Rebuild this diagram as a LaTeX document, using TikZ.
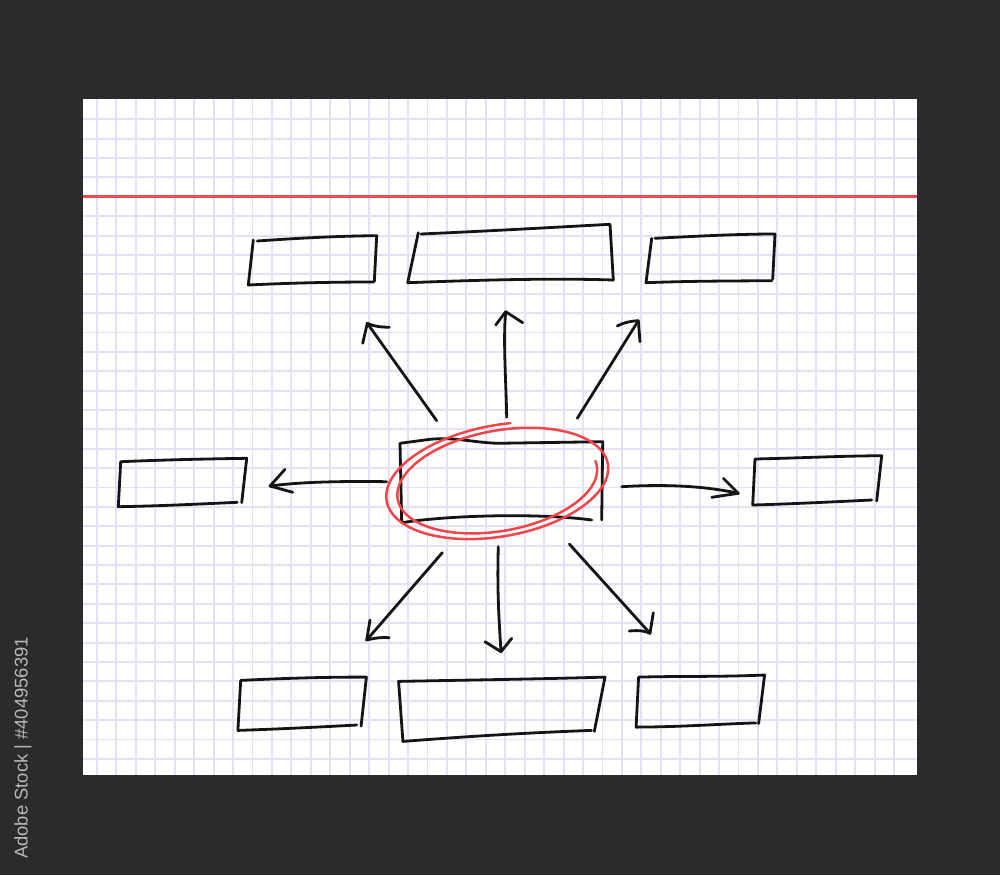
\documentclass[tikz,border=0pt]{standalone}
\usepackage{fontspec}
\newfontfamily\stampfont{Liberation Sans}
\definecolor{bgdark}{RGB}{43,43,43}
\definecolor{gridc}{RGB}{226,226,246}
\definecolor{redline}{RGB}{240,74,80}
\definecolor{redpen}{RGB}{240,70,74}
\definecolor{inkc}{RGB}{20,20,20}
\definecolor{stampc}{RGB}{185,185,185}
\begin{document}
\begin{tikzpicture}[x=1pt,y=-1pt,
  ink/.style={line width=2.8pt, draw=inkc, line cap=round, line join=round},
  redink/.style={line width=2.5pt, draw=redpen, line cap=round, line join=round},
  gridline/.style={line width=1.9pt, draw=gridc},
  arrowshaft/.style={ink},
  barbs/.style={ink}]
\useasboundingbox (0,0) rectangle (1000,875);
\fill[bgdark] (0,0) rectangle (1000,875);
\fill[white] (83,99) rectangle (916.5,775.3);
% grid
\begin{scope}
\clip (83,99) rectangle (916.5,775.3);
\foreach \i in {0,...,41} \draw[gridline] ({97+19.44*\i},99) -- ({97+19.44*\i},775.3);
\foreach \j in {0,...,33} \draw[gridline] (83,{119.3+19.38*\j}) -- (916.5,{119.3+19.38*\j});
\end{scope}
% red margin line
\draw[line width=3pt, draw=redline] (83,196.8) -- (916.5,196.8);
% stamp
\node[rotate=90, text=stampc, font=\stampfont\fontsize{18.4}{18.4}\selectfont, inner sep=0pt] (stamp) at (23,748) {Adobe Stock | \#404956391};

% top row boxes
\draw[ink] (253.3,240) -- (248.3,285) .. controls (290,283) and (330,282) .. (373.3,282);
\draw[ink] (257.3,241) .. controls (300,238) and (340,236) .. (376.7,235.7) -- (374.3,281.7);
\draw[ink] (418.3,232.7) -- (407.7,282.7) .. controls (480,280) and (550,278) .. (613.3,280);
\draw[ink] (421,234) .. controls (490,231) and (560,227) .. (610,224.3) -- (613.3,280);
\draw[ink] (651.7,238.3) -- (646,282.7) .. controls (690,281) and (730,281) .. (771.7,280.7);
\draw[ink] (655,238.3) .. controls (700,236) and (740,234) .. (775,234) -- (772.7,279.3);

% middle boxes
\draw[ink] (237.3,502.3) .. controls (200,504) and (160,506) .. (118.3,506.7) -- (120.7,461.7) .. controls (160,460) and (200,459) .. (246.7,458.3) -- (241.7,502.7);
\draw[ink] (871.7,500) .. controls (830,502) and (790,504) .. (752.7,505) -- (755,459) .. controls (800,458) and (840,456) .. (881.7,455.7) -- (876.7,501);

% centre box
\node[inner sep=0pt, minimum width=200pt, minimum height=80pt] (centre) at (501,482) {};
\draw[ink] (401.7,522.7) -- (400,443.3) -- (430,439.3) .. controls (455,437) and (470,442) .. (496.7,443.3) -- (602.7,441.7) -- (601.7,520);
\draw[ink] (401.7,522.7) .. controls (450,515) and (540,513) .. (591.7,520);

% bottom row boxes
\draw[ink] (356.8,725) .. controls (320,727) and (280,729) .. (237.9,730.4) -- (240.7,680.4) .. controls (290,678) and (330,677) .. (366.4,677.1) -- (361.1,726.1);
\draw[ink] (591.4,730.4) .. controls (520,733) and (460,737) .. (402.9,741.4) -- (398.6,681.4) .. controls (470,680) and (540,679) .. (605,677.1) -- (594.3,731.4);
\draw[ink] (755.7,722.9) .. controls (720,724) and (680,727) .. (636.1,727.1) -- (638.6,677.1) .. controls (680,676) and (720,677) .. (764.6,675) -- (758.6,723.6);

% red scribble
\draw[redink] plot[domain=-80:-725, samples=260, smooth, variable=\t]
  ({500 + (1-0.17*(-80-\t)/645)*(118*cos(\t)*cos(-10) - 57*sin(\t)*sin(-10))},
   {482 + (1-0.17*(-80-\t)/645)*(118*cos(\t)*sin(-10) + 57*sin(\t)*cos(-10))});

% arrow coordinates
\coordinate (ulS) at (436.7,420.7); \coordinate (ulT) at (367.3,323.3);
\coordinate (umS) at (506.7,417.3); \coordinate (umT) at (505.7,311.7);
\coordinate (urS) at (577.3,418.3); \coordinate (urT) at (638.3,320.7);
\coordinate (lS) at (386.7,481.7); \coordinate (lT) at (270,486);
\coordinate (rS) at (621.7,486.7); \coordinate (rT) at (738.3,493.3);
\coordinate (llS) at (442.3,552.7); \coordinate (llT) at (366.7,640);
\coordinate (lmS) at (498.3,546.7); \coordinate (lmT) at (501,651.7);
\coordinate (lrS) at (569.3,544); \coordinate (lrT) at (650,633.3);

% arrows
\draw[arrowshaft] (ulS) -- (ulT);
\draw[barbs] (362.7,343.3) -- (ulT) .. controls (375,327) and (382,327) .. (389.3,327.3);
\draw[arrowshaft] (umS) .. controls (506,380) and (503,340) .. (umT);
\draw[barbs] (495.7,325) -- (umT) -- (522.7,322.7);
\draw[arrowshaft] (urS) -- (urT);
\draw[barbs] (617.3,326) .. controls (625,322) and (632,321) .. (urT) -- (640,341.7);
\draw[arrowshaft] (lS) .. controls (340,481) and (300,482) .. (lT);
\draw[barbs] (285,469.3) -- (lT) -- (292.7,492.3);
\draw[arrowshaft] (rS) .. controls (665,484) and (705,486) .. (rT);
\draw[barbs] (723.3,478.3) -- (rT) -- (711.7,497.3);
\draw[arrowshaft] (llS) -- (llT);
\draw[barbs] (370,620) -- (llT) .. controls (375,638) and (382,637) .. (389.3,637.7);
\draw[arrowshaft] (lmS) .. controls (497,590) and (499,620) .. (lmT);
\draw[barbs] (485,641.7) -- (lmT) -- (511.7,638.3);
\draw[arrowshaft] (lrS) -- (lrT);
\draw[barbs] (629.3,631) .. controls (640,630) and (645,631) .. (lrT) -- (653.3,612.7);
\end{tikzpicture}
\end{document}
